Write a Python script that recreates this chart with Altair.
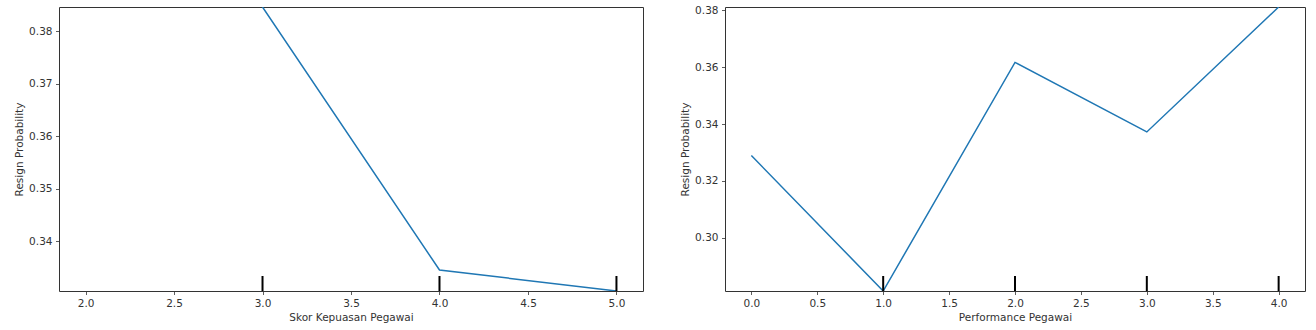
import altair as alt
import pandas as pd

# Left panel: Skor Kepuasan Pegawai
left_x = [3, 4, 5]
left_y = [0.3846, 0.3345, 0.3305]
left_deciles = [3, 4, 5]

# Right panel: Performance Pegawai
right_x = [0, 1, 2, 3, 4]
right_y = [0.3289, 0.2812, 0.3617, 0.3372, 0.3812]
right_deciles = [1, 2, 3, 4]

left_df = pd.DataFrame({"x": left_x, "y": left_y})
left_dec = pd.DataFrame({"x": left_deciles})
right_df = pd.DataFrame({"x": right_x, "y": right_y})
right_dec = pd.DataFrame({"x": right_deciles})

FONT = "DejaVu Sans"
BLUE = "#1f77b4"
INK = "#333333"
H = 284
FS = 10.5

AX = dict(grid=False, domain=False,
          labelFont=FONT, titleFont=FONT,
          labelFontSize=FS, titleFontSize=FS,
          labelColor=INK, titleColor=INK,
          titleFontWeight="normal",
          tickColor=INK, tickSize=3.5, tickWidth=0.8,
          labelPadding=3.5, titlePadding=4)


def panel(df, dec, xdom, ydom, xticks, yticks, xtitle, yfmt, w):
    xs = alt.Scale(domain=xdom, nice=False, zero=False)
    ys = alt.Scale(domain=ydom, nice=False, zero=False)
    line = alt.Chart(df).mark_line(color=BLUE, strokeWidth=1.5, clip=True).encode(
        x=alt.X("x:Q", scale=xs, title=xtitle,
                axis=alt.Axis(values=xticks, format=".1f", **AX)),
        y=alt.Y("y:Q", scale=ys, title="Resign Probability",
                axis=alt.Axis(values=yticks, format=yfmt, **AX)),
    )
    rules = alt.Chart(dec).mark_rule(color="black", strokeWidth=2).encode(
        x=alt.X("x:Q", scale=xs),
        y=alt.value(H),
        y2=alt.value(H - 15),
    )
    return alt.layer(line, rules).properties(width=w, height=H)


left = panel(left_df, left_dec, [1.85, 5.15], [0.3305, 0.3846],
             [2.0, 2.5, 3.0, 3.5, 4.0, 4.5, 5.0], [0.34, 0.35, 0.36, 0.37, 0.38],
             "Skor Kepuasan Pegawai", ".2f", 584)
right = panel(right_df, right_dec, [-0.2, 4.2], [0.2812, 0.3812],
              [0.0, 0.5, 1.0, 1.5, 2.0, 2.5, 3.0, 3.5, 4.0], [0.30, 0.32, 0.34, 0.36, 0.38],
              "Performance Pegawai", ".2f", 580)

chart = alt.hconcat(left, right, spacing=36).properties(
    padding={"left": 14, "top": 4, "right": 5, "bottom": 5},
    background="white",
).configure_view(
    stroke=INK, strokeWidth=1
).configure_axis(
    grid=False, titleFontWeight="normal"
)

chart.save("out.html", embed_options={"renderer": "svg", "actions": False})
